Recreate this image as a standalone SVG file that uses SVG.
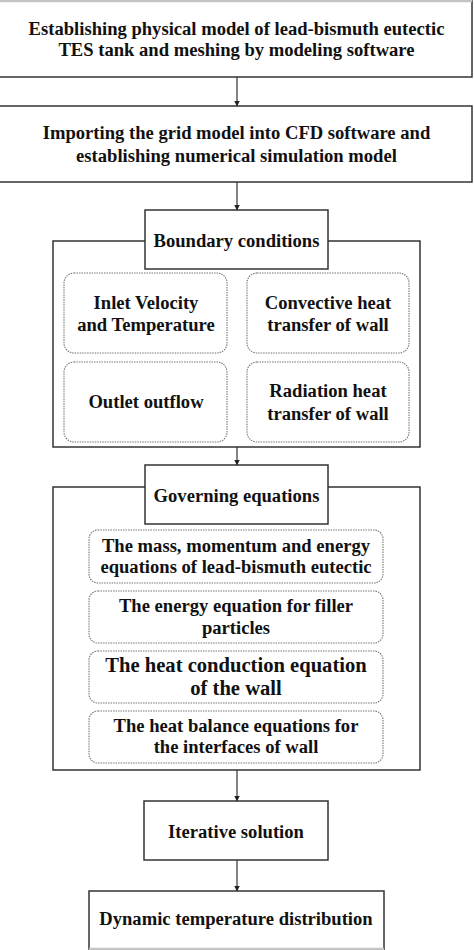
<svg xmlns="http://www.w3.org/2000/svg" width="474" height="950" viewBox="0 0 474 950">
<style>
  .box{fill:#fff;stroke:#333;stroke-width:1.5}
  .dot{fill:#fff;stroke:#777;stroke-width:1.1;stroke-dasharray:1.5 1}
  .t{font-family:"Liberation Serif","Times New Roman",serif;font-weight:bold;font-size:18.6px;fill:#111;text-anchor:middle}
  .big{font-size:20.6px}
  .edge{stroke:#333;stroke-width:1.2;fill:none}
</style>
<defs>
  <marker id="arr" markerUnits="userSpaceOnUse" markerWidth="6" markerHeight="6" refX="5.5" refY="3" orient="auto">
    <path d="M0,0 L6,3 L0,6 z" fill="#222"/>
  </marker>
</defs>
<rect width="474" height="950" fill="#fff"/>

<g id="n1">
  <rect class="box" x="-5" y="1" width="477" height="76"/>
  <line x1="0" y1="1" x2="472" y2="1" stroke="#c4c4c4" stroke-width="2.5"/>
  <text class="t" x="236.5" y="35">Establishing physical model of lead-bismuth eutectic</text>
  <text class="t" x="236.5" y="56">TES tank and meshing by modeling software</text>
</g>

<g id="n2">
  <rect class="box" x="-5" y="106" width="477" height="76"/>
  <text class="t" x="236.5" y="139">Importing the grid model into CFD software and</text>
  <text class="t" x="236.5" y="162">establishing numerical simulation model</text>
</g>

<g id="boundary">
  <rect class="box" x="53" y="241" width="367" height="206"/>
  <rect class="box" x="145" y="210" width="183" height="59"/>
  <text class="t" x="236.5" y="247">Boundary conditions</text>
  <g id="b1">
    <rect class="dot" x="64" y="273" width="163" height="80" rx="10"/>
    <text class="t" x="146" y="309">Inlet Velocity</text>
    <text class="t" x="146" y="331">and Temperature</text>
  </g>
  <g id="b2">
    <rect class="dot" x="247" y="273" width="162" height="80" rx="10"/>
    <text class="t" x="328" y="309">Convective heat</text>
    <text class="t" x="328" y="331">transfer of wall</text>
  </g>
  <g id="b3">
    <rect class="dot" x="64" y="362" width="163" height="80" rx="10"/>
    <text class="t" x="146" y="408">Outlet outflow</text>
  </g>
  <g id="b4">
    <rect class="dot" x="247" y="362" width="162" height="80" rx="10"/>
    <text class="t" x="328" y="397">Radiation heat</text>
    <text class="t" x="328" y="420">transfer of wall</text>
  </g>
</g>

<g id="governing">
  <rect class="box" x="53" y="487" width="367" height="283"/>
  <rect class="box" x="145" y="465" width="183" height="59"/>
  <text class="t" x="236.5" y="502">Governing equations</text>
  <g id="g1">
    <rect class="dot" x="89" y="530" width="294" height="53" rx="9"/>
    <text class="t" x="236" y="552">The mass, momentum and energy</text>
    <text class="t" x="236" y="573">equations of lead-bismuth eutectic</text>
  </g>
  <g id="g2">
    <rect class="dot" x="89" y="591" width="294" height="52" rx="9"/>
    <text class="t" x="236" y="612">The energy equation for filler</text>
    <text class="t" x="236" y="634">particles</text>
  </g>
  <g id="g3">
    <rect class="dot" x="89" y="651" width="294" height="52" rx="9"/>
    <text class="t big" x="236" y="672">The heat conduction equation</text>
    <text class="t big" x="236" y="695">of the wall</text>
  </g>
  <g id="g4">
    <rect class="dot" x="89" y="711" width="294" height="52" rx="9"/>
    <text class="t" x="236" y="732">The heat balance equations for</text>
    <text class="t" x="236" y="753">the interfaces of wall</text>
  </g>
</g>

<g id="n3">
  <rect class="box" x="144" y="801" width="184" height="59"/>
  <text class="t" x="236" y="838">Iterative solution</text>
</g>

<g id="n4">
  <rect class="box" x="89" y="891" width="295" height="62"/>
  <line x1="89" y1="949" x2="384" y2="949" stroke="#c4c4c4" stroke-width="2.5"/>
  <text class="t" x="236" y="925">Dynamic temperature distribution</text>
</g>

<g id="connectors">
  <line class="edge" x1="237" y1="77" x2="237" y2="106" marker-end="url(#arr)"/>
  <line class="edge" x1="237" y1="182" x2="237" y2="210" marker-end="url(#arr)"/>
  <line class="edge" x1="237" y1="447" x2="237" y2="465" marker-end="url(#arr)"/>
  <line class="edge" x1="237" y1="770" x2="237" y2="801" marker-end="url(#arr)"/>
  <line class="edge" x1="237" y1="860" x2="237" y2="891" marker-end="url(#arr)"/>
</g>
</svg>
